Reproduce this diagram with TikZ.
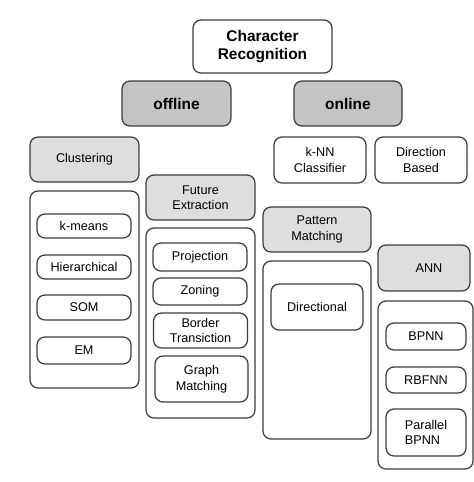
\documentclass[tikz,border=0pt]{standalone}
\usepackage{fontspec}
\setmainfont{Liberation Sans}
\definecolor{catgray}{RGB}{196,196,196}
\definecolor{subgray}{RGB}{222,222,222}
\definecolor{edgegray}{RGB}{60,60,60}

\begin{document}
\begin{tikzpicture}[x=0.025cm,y=-0.025cm,
  box/.style={draw=edgegray,line width=0.9pt,rounded corners=0.2cm,align=center,
    inner sep=1pt,font=\fontsize{9}{11}\selectfont},
  root/.style={box,fill=white,font=\fontsize{11}{12.5}\selectfont\bfseries},
  cat/.style={box,fill=catgray,font=\fontsize{11}{12.5}\selectfont\bfseries},
  sub/.style={box,fill=subgray},
  frame/.style={box,fill=white},
  leaf/.style={box,fill=white}]

  \def\px{0.025cm}
  \useasboundingbox (0,0) rectangle (474,482);

  % top levels
  \node[root, minimum width=139*\px, minimum height=53*\px] (charrec) at (262.5,46.5) {Character\\Recognition};
  \node[cat, minimum width=109*\px, minimum height=45*\px] (offline) at (176.5,103.5) {offline};
  \node[cat, minimum width=108*\px, minimum height=45*\px] (online) at (348,103.5) {online};

  % online branch
  \node[leaf, minimum width=92*\px, minimum height=46*\px] (knn) at (320,160) {k-NN\\Classifier};
  \node[leaf, minimum width=92*\px, minimum height=46*\px] (direction) at (421,160) {Direction\\Based};

  % Clustering
  \node[sub, minimum width=109*\px, minimum height=45*\px] (clustering) at (84.5,159.5) {Clustering};
  \node[frame, minimum width=109*\px, minimum height=197*\px] (clusterframe) at (84.5,289.5) {};
  \foreach \name/\y/\h/\txt in {kmeans/226/24/k-means, hier/267/24/Hierarchical, som/307.5/25/SOM, em/350.5/27/EM}
    {\node[leaf, minimum width=94*\px, minimum height=\h*\px] (\name) at (84,\y) {\txt};}

  % Future Extraction
  \node[sub, minimum width=109*\px, minimum height=45*\px] (future) at (200.5,197.5) {Future\\Extraction};
  \node[frame, minimum width=109*\px, minimum height=190*\px] (futureframe) at (200.5,323) {};
  \node[leaf, minimum width=94*\px, minimum height=28*\px] (projection) at (200,257) {Projection};
  \node[leaf, minimum width=94*\px, minimum height=27*\px] (zoning) at (200,291.5) {Zoning};
  \node[leaf, minimum width=94*\px, minimum height=35*\px] (border) at (200.5,330.5) {Border\\Transiction};
  \node[leaf, minimum width=93*\px, minimum height=46*\px] (graph) at (201.5,379) {Graph\\Matching};

  % Pattern Matching
  \node[sub, minimum width=108*\px, minimum height=45*\px] (pattern) at (317,229.5) {Pattern\\Matching};
  \node[frame, minimum width=108*\px, minimum height=178*\px] (patternframe) at (317,350) {};
  \node[leaf, minimum width=92*\px, minimum height=46*\px] (directional) at (317,307) {Directional};

  % ANN
  \node[sub, minimum width=92*\px, minimum height=46*\px] (ann) at (424,268) {\hspace{0.25cm}ANN};
  \node[frame, minimum width=95*\px, minimum height=168*\px] (annframe) at (425.5,385) {};
  \node[leaf, minimum width=80*\px, minimum height=27*\px] (bpnn) at (426,336.5) {BPNN};
  \node[leaf, minimum width=80*\px, minimum height=26*\px] (rbfnn) at (426,380) {RBFNN};
  \node[leaf, minimum width=80*\px, minimum height=47*\px, align=left] (parallel) at (426,432.5) {Parallel\\BPNN\hspace{0.3cm}};

\end{tikzpicture}
\end{document}
